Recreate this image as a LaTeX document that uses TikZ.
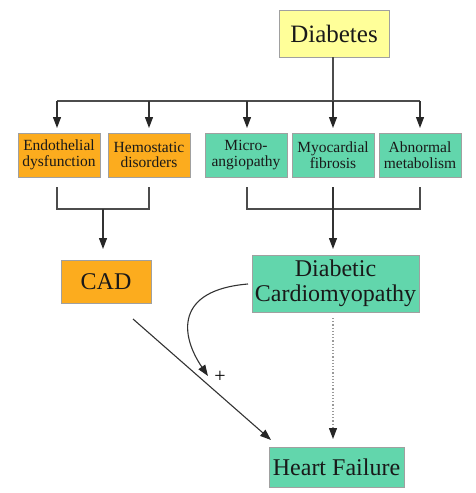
\documentclass[tikz,border=0pt]{standalone}
\usepackage{fontspec}
\setmainfont{Liberation Serif}
\usetikzlibrary{arrows.meta}
\definecolor{orng}{RGB}{252,172,30}
\definecolor{teal2}{RGB}{98,214,172}
\definecolor{yel}{RGB}{255,255,153}
\definecolor{bord}{RGB}{160,160,160}
\begin{document}
\begin{tikzpicture}[x=1pt,y=-1pt,
  box/.style={draw=bord,line width=0.8pt,inner sep=0pt,align=center,text=black!90},
  small/.style={box,minimum width=82pt,minimum height=44pt,font=\fontsize{15.5}{15.5}\selectfont},
  big/.style={box,font=\fontsize{24}{24.5}\selectfont},
  tip/.style={-{Triangle[length=11pt,width=8pt,color=black!85]}},
  arr/.style={line width=1.2pt,draw=black!80,tip},
  ln/.style={line width=1.2pt,draw=black!70}]
\useasboundingbox (0,0) rectangle (475,493);
\node[box,fill=yel,minimum width=110pt,minimum height=47pt,font=\fontsize{25}{25}\selectfont] (diab) at (334,33.5) {Diabetes};
\node[small,fill=orng] (endo) at (59,155) {Endothelial\\dysfunction};
\node[small,fill=orng] (hemo) at (149,155) {Hemostatic\\disorders};
\node[small,fill=teal2] (micro) at (246,155) {Micro-\\angiopathy};
\node[small,fill=teal2] (myo) at (333,155) {Myocardial\\fibrosis};
\node[small,fill=teal2] (abn) at (420,155) {Abnormal\\metabolism};
\node[big,fill=orng,minimum width=90pt,minimum height=43pt] (cad) at (106,281.5) {CAD};
\node[big,fill=teal2,minimum width=167pt,minimum height=57pt] (dcm) at (335.5,283.5) {Diabetic\\Cardiomyopathy};
\node[big,fill=teal2,minimum width=135pt,minimum height=40pt] (hf) at (336.5,467) {Heart Failure};
% top distribution
\coordinate (hl) at (57,101);
\coordinate (hr) at (420,101);
\draw[ln] (diab.south -| 333,0) -- (333,101);
\draw[ln] (hl) -- (hr);
\foreach \n/\x in {endo/57,hemo/149,micro/247,myo/333,abn/420}
  \draw[arr] (\x,101) -- (\x,128);
% left bracket
\draw[ln] (57,187) -- (57,209) -- (149,209) -- (149,187);
\draw[arr] (103,209) -- (103,249);
% right bracket
\draw[ln] (247,187) -- (247,209) -- (420,209) -- (420,187);
\draw[arr] (333,187) -- (333,249);
% CAD to HF
\coordinate (cs) at (133,319);
\coordinate (ce) at (271,440);
\draw[arr,line width=1.1pt] (cs) -- (ce);
% curved
\coordinate (ds) at (248,284);
\coordinate (dt) at (208,376);
\draw[arr,line width=1.1pt] (ds) .. controls (175,290) and (180,335) .. (dt);
\node[font=\fontsize{20}{20}\selectfont] (plus) at (220,377) {+};
% dotted
\draw[line width=1.2pt,draw=black!40,dotted,tip] (333,318) -- (333,439);
\end{tikzpicture}
\end{document}
